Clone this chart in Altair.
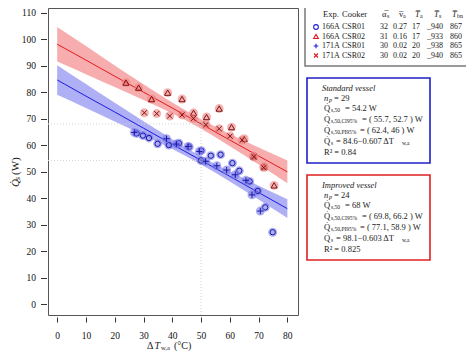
import altair as alt
import pandas as pd

# ---------------- data ----------------
# 166A CSR02 (triangles, improved vessel)
tri_x = [23.9, 28.3, 32.8, 38.4, 43.4, 47.4, 51.9, 56.3, 60.6, 65.0, 68.2, 71.9, 75.4]
tri_y = [83.6, 81.7, 77.4, 79.8, 77.4, 72.2, 70.6, 73.8, 66.8, 62.4, 55.8, 51.9, 44.8]
# 171A CSR02 (x, improved vessel)
xx_x = [30.3, 34.6, 39.1, 43.4, 47.4, 51.7, 56.3, 60.1, 64.3, 68.4, 71.8]
xx_y = [72.2, 71.9, 71.0, 71.4, 70.1, 67.7, 66.2, 63.4, 61.9, 55.6, 51.5]
# 166A CSR01 (circles, standard vessel)
ci_x = [27.6, 29.8, 31.9, 34.9, 38.8, 42.3, 45.9, 50.1, 50.0, 53.4, 56.8, 60.9, 63.3, 66.9, 69.7, 72.3, 74.9]
ci_y = [64.4, 63.6, 62.7, 60.5, 60.0, 60.7, 59.3, 57.9, 54.2, 56.0, 56.4, 53.2, 50.3, 46.3, 42.7, 36.5, 27.1]
# 171A CSR01 (+, standard vessel)
pl_x = [26.8, 38.0, 41.4, 45.5, 49.4, 51.6, 55.5, 58.9, 61.9, 65.6, 67.7, 70.6]
pl_y = [64.8, 62.4, 60.4, 59.5, 57.6, 53.9, 52.2, 50.6, 48.8, 46.7, 41.2, 35.1]

# fitted lines and confidence bands (read at x = 0..80)
band_x = [0, 10, 20, 30, 40, 50, 60, 70, 80]
red_fit = [98.1, 92.1, 86.0, 80.0, 74.0, 68.0, 61.9, 55.9, 49.9]
red_lo = [91.6, 86.8, 81.9, 77.0, 71.9, 66.2, 59.6, 52.7, 45.6]
red_hi = [104.6, 97.4, 90.1, 83.0, 76.1, 69.8, 64.2, 59.1, 54.2]
blue_fit = [84.6, 78.5, 72.5, 66.4, 60.3, 54.25, 48.2, 42.1, 36.0]
blue_lo = [79.0, 74.0, 68.9, 63.8, 58.5, 52.7, 46.3, 39.5, 32.5]
blue_hi = [90.2, 83.1, 76.0, 69.0, 62.2, 55.7, 50.0, 44.7, 39.6]

q50_x = [50, 50]
q50_y = [68.0, 54.2]

x_ticks = [0, 10, 20, 30, 40, 50, 60, 70, 80]
y_ticks = [0, 10, 20, 30, 40, 50, 60, 70, 80, 90, 100, 110]

exp_ids = ["166A", "166A", "171A", "171A"]
cookers = ["CSR01", "CSR02", "CSR01", "CSR02"]
alpha_s = ["32", "31", "30", "30"]
v_a = ["0.27", "0.16", "0.02", "0.02"]
t_a = ["17", "17", "20", "20"]
t_s = ["_940", "_933", "_938", "_940"]
t_bn = ["867", "860", "865", "865"]

# ---------------- styling ----------------
FONT = "Liberation Serif"
RED, BLUE = "#e41a1c", "#1c1ce0"
RED_BAND, BLUE_BAND = "#f6a4a4", "#a6a6f4"
RED_HALO, BLUE_HALO = "#ee8080", "#7878ea"
RED_MK, BLUE_MK = "#801010", "#1a1aa8"
PLUS = "M-1,0L1,0M0,-1L0,1"
XSH = "M-1,-1L1,1M-1,1L1,-1"

XD = [-3.2, 83.7]
YD = [-4.15, 111.77]
xs = alt.Scale(domain=XD, nice=False, zero=False)
ys = alt.Scale(domain=YD, nice=False, zero=False)
XAX = alt.Axis(values=x_ticks, title=None, grid=False, domain=False, labelOverlap=False,
               tickSize=5, offset=2, tickColor="#333", labelFont=FONT, labelFontSize=9.5,
               labelColor="#111", labelPadding=8)
YAX = alt.Axis(values=y_ticks, title=None, grid=False, domain=False, labelOverlap=False,
               tickSize=6, offset=1.5, tickColor="#333", labelFont=FONT, labelFontSize=9.5,
               labelColor="#111", labelPadding=5)


def xe(f):
    return alt.X(f + ":Q", scale=xs, axis=XAX)


def ye(f):
    return alt.Y(f + ":Q", scale=ys, axis=YAX)


band_df = pd.DataFrame({"x": band_x, "rlo": red_lo, "rhi": red_hi, "rf": red_fit,
                        "blo": blue_lo, "bhi": blue_hi, "bf": blue_fit})

layers = []
layers.append(alt.Chart(band_df).mark_area(color=RED_BAND, opacity=0.9, interpolate="monotone")
              .encode(x=xe("x"), y=ye("rlo"), y2="rhi:Q"))
layers.append(alt.Chart(band_df).mark_area(color=BLUE_BAND, opacity=0.9, interpolate="monotone")
              .encode(x=xe("x"), y=ye("blo"), y2="bhi:Q"))

# dotted guides at dT = 50
guide_v = pd.DataFrame({"x": [50], "y": [YD[0]], "y2": [q50_y[0]]})
guide_h = pd.DataFrame({"x": [XD[0], XD[0]], "x2": [50, 50], "y": q50_y})
layers.append(alt.Chart(guide_v).mark_rule(color="#d4d4d4", strokeDash=[1, 2], strokeWidth=1)
              .encode(x=xe("x"), y=ye("y"), y2="y2:Q"))
layers.append(alt.Chart(guide_h).mark_rule(color="#d4d4d4", strokeDash=[1, 2], strokeWidth=1)
              .encode(x=xe("x"), x2="x2:Q", y=ye("y")))

layers.append(alt.Chart(band_df).mark_line(color=RED, strokeWidth=1)
              .encode(x=xe("x"), y=ye("rf")))
layers.append(alt.Chart(band_df).mark_line(color=BLUE, strokeWidth=1)
              .encode(x=xe("x"), y=ye("bf")))


def pts(xv, yv, halo, stroke, shape, size=34, sw=1.0):
    df = pd.DataFrame({"x": xv, "y": yv})
    h = alt.Chart(df).mark_point(filled=True, shape="circle", size=80, color=halo, opacity=0.6) \
        .encode(x=xe("x"), y=ye("y"))
    m = alt.Chart(df).mark_point(filled=False, shape=shape, size=size, color=stroke,
                                 strokeWidth=sw, opacity=1) \
        .encode(x=xe("x"), y=ye("y"))
    return [h, m]


layers += pts(ci_x, ci_y, BLUE_HALO, BLUE_MK, "circle", 28)
layers += pts(pl_x, pl_y, BLUE_HALO, BLUE_MK, PLUS, 40)
layers += pts(tri_x, tri_y, RED_HALO, RED_MK, "triangle-up", 38)
layers += pts(xx_x, xx_y, RED_HALO, RED_MK, XSH, 26)

q50_df = pd.DataFrame({"x": q50_x, "y": q50_y})
layers.append(alt.Chart(q50_df).mark_point(filled=False, shape="circle", size=14, color="#9aa",
                                           strokeWidth=0.8)
              .encode(x=xe("x"), y=ye("y")))

# ---------------- annotations (page coordinates) ----------------
OX, OY = 48, 8
one = alt.Data(values=[{"a": 1}])


def txt(x, y, s, size=8.5, italic=False, angle=0, color="#1a1a1a", align="left"):
    kw = dict(font=FONT, fontSize=size, color=color, align=align, baseline="middle")
    if italic:
        kw["fontStyle"] = "italic"
    if angle:
        kw["angle"] = angle
    return alt.Chart(one).mark_text(**kw).encode(x=alt.value(x - OX), y=alt.value(y - OY),
                                                  text=alt.value(s))


def box(x1, y1, x2, y2, color, sw):
    return alt.Chart(one).mark_rect(fill=None, stroke=color, strokeWidth=sw).encode(
        x=alt.value(x1 - OX), x2=alt.value(x2 - OX), y=alt.value(y1 - OY), y2=alt.value(y2 - OY))


def sym(x, y, shape, color, size=22):
    return alt.Chart(one).mark_point(filled=False, shape=shape, size=size, color=color,
                                     strokeWidth=1.1, opacity=1).encode(
        x=alt.value(x - OX), y=alt.value(y - OY))


# axis titles
layers += [txt(147, 345.5, "Δ", 10), txt(154.5, 345.5, "T", 10, italic=True),
           txt(161, 348, "w,a", 6.5), txt(174, 345.5, "(°C)", 10)]
layers += [txt(16, 187, "Q̇", 11, italic=True, angle=270),
           txt(18, 180, "s", 7.5, angle=270), txt(16, 175, "(W)", 11, angle=270)]

# legend table
layers.append(box(305, 0, 470, 66, "#7a7a7a", 1.5))
hy = 14
layers += [txt(323, hy, "Exp."), txt(342, hy, "Cooker"),
           txt(382, hy, "α̅"), txt(387, hy + 2, "s", 6),
           txt(399, hy, "v̅"), txt(403, hy + 2, "a", 6),
           txt(415, hy, "T̅", italic=True), txt(420, hy + 2, "a", 6),
           txt(434, hy, "T̅", italic=True), txt(439, hy + 2, "s", 6),
           txt(452, hy, "T̅", italic=True), txt(457, hy + 2, "bn", 6)]
row_y = [27, 36.5, 46, 55.5]
shapes = [("circle", BLUE), ("triangle-up", RED), (PLUS, BLUE), (XSH, RED)]
for i, ry in enumerate(row_y):
    shp, col = shapes[i]
    layers.append(sym(316, ry, shp, col, 22 if shp != XSH else 16))
    layers += [txt(322, ry, exp_ids[i], 8), txt(342, ry, cookers[i], 8), txt(380, ry, alpha_s[i], 8),
               txt(393, ry, v_a[i], 8), txt(412, ry, t_a[i], 8), txt(427, ry, t_s[i], 8),
               txt(450, ry, t_bn[i], 8)]


def stat_box(y0, title, n, q50, ci, pi, formula, r2, color):
    out = [box(307, y0, 430, y0 + 85, color, 1.6)]
    ly = [y0 + 10, y0 + 20, y0 + 30, y0 + 41, y0 + 52, y0 + 63, y0 + 74]
    out += [txt(322, ly[0], title, 8.5, italic=True)]
    out += [txt(324, ly[1], "n", 8.5, italic=True), txt(329, ly[1] + 2, "p", 6, italic=True),
            txt(334, ly[1], "= " + n)]
    out += [txt(324, ly[2], "Q̇"), txt(331, ly[2] + 2, "s,50", 5.5), txt(345, ly[2], "= " + q50)]
    out += [txt(324, ly[3], "Q̇"), txt(331, ly[3] + 2, "s,50,CI95%", 5.5), txt(362, ly[3], "= " + ci)]
    out += [txt(324, ly[4], "Q̇"), txt(331, ly[4] + 2, "s,50,PI95%", 5.5), txt(360, ly[4], "= " + pi)]
    out += [txt(324, ly[5], "Q̇"), txt(331, ly[5] + 2, "s", 5.5),
            txt(336, ly[5], "= " + formula + " ΔT"), txt(402, ly[5] + 2, "w,a", 5.5)]
    out += [txt(324, ly[6], "R² = " + r2)]
    return out


layers += stat_box(78, "Standard vessel", "29", "54.2 W", "( 55.7, 52.7 ) W", "( 62.4, 46 ) W",
                   "84.6−0.607", "0.84", "#2020c8")
layers += stat_box(175, "Improved vessel", "24", "68 W", "( 69.8, 66.2 ) W", "( 77.1, 58.9 ) W",
                   "98.1−0.603", "0.825", "#e02020")

chart = alt.layer(*layers).properties(
    width=250, height=307,
    autosize=alt.AutoSizeParams(type="none"),
    padding={"left": 40, "top": 0, "right": 168, "bottom": 36},
    background="white",
).configure_view(stroke="#555", strokeWidth=1)

chart.save("out.html", embed_options={"renderer": "svg", "actions": False})
